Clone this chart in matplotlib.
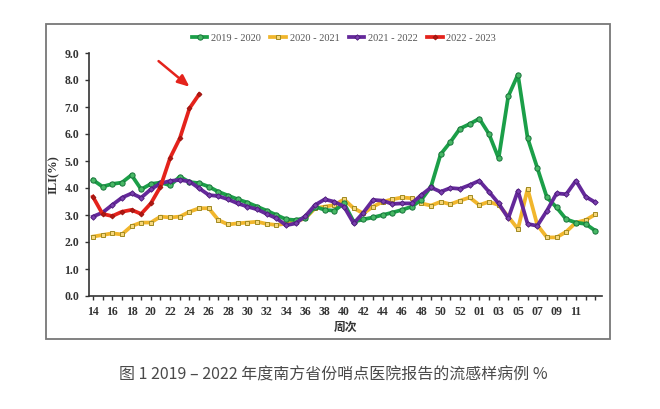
import matplotlib
matplotlib.use("Agg")
import matplotlib.pyplot as plt
from matplotlib.patches import Rectangle

weeks = [str(w) for w in range(14, 54)] + ["%02d" % w for w in range(1, 14)]
tick_labels = [w if i % 2 == 0 and i <= 50 else "" for i, w in enumerate(weeks)]

s2019 = [4.30, 4.05, 4.15, 4.20, 4.48, 3.95, 4.15, 4.20, 4.10, 4.42, 4.22, 4.18,
         4.05, 3.86, 3.72, 3.58, 3.46, 3.31, 3.16, 3.00, 2.84, 2.81,
         2.90, 3.31, 3.19, 3.16, 3.43, 2.75, 2.84, 2.91, 3.00, 3.09,
         3.19, 3.31, 3.56, 4.05, 5.25, 5.70, 6.20, 6.37, 6.57, 6.00,
         5.10, 7.40, 8.20, 5.85, 4.75, 3.65, 3.28, 2.84, 2.72, 2.67,
         2.42]
s2020 = [2.20, 2.26, 2.32, 2.28, 2.59, 2.72, 2.72, 2.94, 2.91, 2.94, 3.12, 3.25,
         3.25, 2.81, 2.65, 2.69, 2.72, 2.75, 2.67, 2.63, 2.68, 2.75,
         2.88, 3.25, 3.31, 3.37, 3.58, 3.25, 3.06, 3.31, 3.49, 3.58,
         3.65, 3.62, 3.43, 3.35, 3.49, 3.40, 3.53, 3.65, 3.37, 3.49,
         3.37, 2.94, 2.48, 3.97, 2.63, 2.17, 2.17, 2.38, 2.72, 2.81,
         3.02]
s2021 = [2.94, 3.09, 3.37, 3.64, 3.80, 3.64, 3.95, 4.17, 4.26, 4.30, 4.24, 3.99,
         3.74, 3.70, 3.58, 3.43, 3.31, 3.21, 3.04, 2.88, 2.62, 2.69,
         2.96, 3.37, 3.58, 3.49, 3.31, 2.69, 3.09, 3.56, 3.53, 3.41,
         3.43, 3.43, 3.74, 4.02, 3.86, 4.00, 3.97, 4.11, 4.27, 3.86,
         3.43, 2.88, 3.90, 2.67, 2.60, 3.16, 3.80, 3.77, 4.27, 3.68,
         3.47]
s2022 = [3.68, 3.04, 2.96, 3.12, 3.19, 3.04, 3.43, 4.05, 5.12, 5.84, 6.95, 7.47]

labels = ["2019 - 2020", "2020 - 2021", "2021 - 2022", "2022 - 2023"]
yticks = [0, 1, 2, 3, 4, 5, 6, 7, 8, 9]

W, H = 660, 409
fig = plt.figure(figsize=(6.6, 4.09), dpi=100)
fig.patch.set_facecolor("white")

fig.patches.append(Rectangle((46 / W, 1 - 339 / H), 564 / W, 315 / H,
                             transform=fig.transFigure, fill=False,
                             edgecolor="#777777", linewidth=1.3))

ax = fig.add_axes([89 / W, 1 - 296 / H, (602 - 89) / W, (296 - 53) / H])
x = list(range(len(weeks)))

serif = ["Liberation Serif", "DejaVu Serif"]

h1, = ax.plot(x, s2020, color="#f1b62c", lw=2.7, marker="s", ms=3.2,
              mfc="#f7d77a", mec="#a08a22", mew=0.7, label=labels[1], zorder=2)
h0, = ax.plot(x, s2019, color="#1b9f48", lw=2.7, marker="o", ms=3.8,
              mfc="#47b865", mec="#17743a", mew=0.7, label=labels[0], zorder=3)
h2, = ax.plot(x, s2021, color="#64289a", lw=2.7, marker="D", ms=2.8,
              mfc="#7a3fae", mec="#4b1a78", mew=0.6, label=labels[2], zorder=4)
h3, = ax.plot(x[:len(s2022)], s2022, color="#e4231c", lw=2.7, marker="D", ms=2.5,
              mfc="#b01812", mec="#9a140f", mew=0.6, label=labels[3], zorder=5)

ax.annotate("", xy=(10.0, 7.75), xytext=(6.8, 8.7),
            arrowprops=dict(arrowstyle="-|>,head_length=0.7,head_width=0.3",
                            color="#e4231c", lw=1.8, shrinkA=0, shrinkB=0))

ax.set_xlim(-0.4, 52.7)
ax.set_ylim(0, 9)
ax.set_yticks(yticks)
ax.set_yticklabels(["%.1f" % v for v in yticks], fontfamily=serif,
                   fontweight="bold", fontsize=8.5, color="#333333")
ax.set_xticks(x)
ax.set_xticklabels(tick_labels, fontfamily=serif, fontweight="bold",
                   fontsize=8.5, color="#333333")
ax.tick_params(axis="both", direction="out", length=3, width=1,
               color="#333333", pad=4)
for s in ["top", "right"]:
    ax.spines[s].set_visible(False)
for s in ["left", "bottom"]:
    ax.spines[s].set_linewidth(1.2)
    ax.spines[s].set_color("#333333")

ax.set_ylabel("ILI(%)", fontfamily=serif, fontweight="bold", fontsize=9,
              color="#333333", labelpad=3)
ax.set_xlabel("周次", fontfamily=["Noto Sans CJK SC", "DejaVu Sans"],
              fontweight="bold", fontsize=8.5, color="#333333", labelpad=2)

leg = fig.legend([h0, h1, h2, h3], labels, loc="center",
                 bbox_to_anchor=(344 / W, 1 - 38 / H), ncol=4,
                 frameon=False, handlelength=1.5, columnspacing=0.9,
                 handletextpad=0.35, prop={"family": serif, "size": 7.5})
for t in leg.get_texts():
    t.set_color("#555555")

fig.text(333 / W, 1 - 375 / H,
         "图 1 2019 – 2022 年度南方省份哨点医院报告的流感样病例 %",
         ha="center", va="center", fontsize=11.5, color="#4a4a4a",
         family=["Noto Sans CJK SC", "DejaVu Sans"], fontweight="light")

fig.savefig("out.png", dpi=100, facecolor="white")
